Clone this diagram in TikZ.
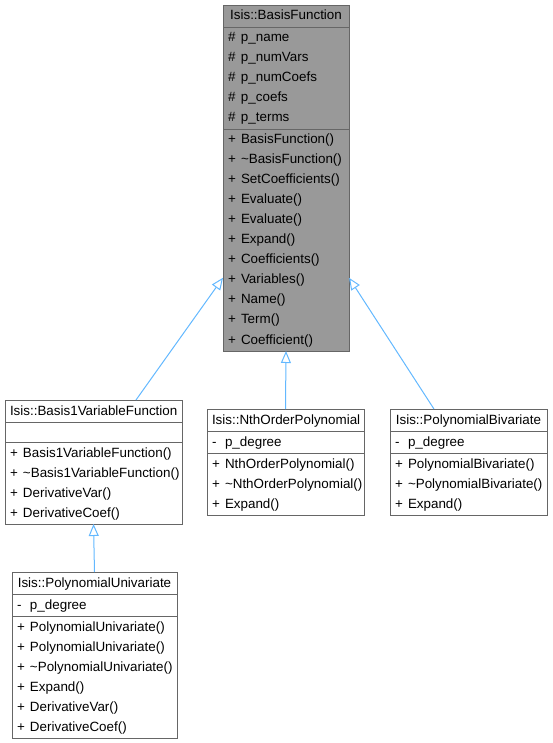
\documentclass[tikz,border=0pt]{standalone}
\usepackage{fontspec}
\setmainfont{Liberation Sans}
\usepackage{tikz}
\usetikzlibrary{arrows.meta,calc,positioning}
\definecolor{EdgeBlue}{RGB}{99,184,255}
\definecolor{BoxGrey}{RGB}{102,102,102}
\definecolor{BaseFill}{RGB}{153,153,153}
\newcommand{\umlrow}[2]{\makebox[13pt][l]{#1}#2\strut}

\begin{document}
\begin{tikzpicture}[x=1pt, y=-1pt,
    every node/.style={font=\fontsize{13.4}{20}\selectfont},
    ctitle/.style={draw=BoxGrey, fill=white, line width=0.8pt, inner xsep=5pt,
        inner ysep=1pt, outer sep=0pt, text width=#1, align=center},
    cpart/.style={draw=BoxGrey, fill=white, line width=0.8pt, inner xsep=5pt,
        inner ysep=1pt, outer sep=0pt, text width=#1, align=left},
    inherit/.style={draw=EdgeBlue, line width=1pt,
        -{Triangle[open, length=12pt, width=10pt]}}]
\useasboundingbox (0,0) rectangle (553,743);

% base class
\node[ctitle=116pt, fill=BaseFill, anchor=north west] (bftitle) at (223,5)
    {Isis::BasisFunction\strut};
\node[cpart=116pt, fill=BaseFill, below=0pt of bftitle] (bfattr)
    {\umlrow{\#}{p\_name}\\ \umlrow{\#}{p\_numVars}\\ \umlrow{\#}{p\_numCoefs}\\
     \umlrow{\#}{p\_coefs}\\ \umlrow{\#}{p\_terms}};
\node[cpart=116pt, fill=BaseFill, below=0pt of bfattr] (bfmeth)
    {\umlrow{+}{BasisFunction()}\\ \umlrow{+}{\textasciitilde BasisFunction()}\\
     \umlrow{+}{SetCoefficients()}\\ \umlrow{+}{Evaluate()}\\ \umlrow{+}{Evaluate()}\\
     \umlrow{+}{Expand()}\\ \umlrow{+}{Coefficients()}\\ \umlrow{+}{Variables()}\\
     \umlrow{+}{Name()}\\ \umlrow{+}{Term()}\\ \umlrow{+}{Coefficient()}};

% derived classes
\node[ctitle=167pt, anchor=north west] (bvtitle) at (5,400)
    {Isis::Basis1VariableFunction\strut};
\node[cpart=167pt, minimum height=20pt, below=0pt of bvtitle] (bvattr) {};
\node[cpart=167pt, below=0pt of bvattr] (bvmeth)
    {\umlrow{+}{Basis1VariableFunction()}\\ \umlrow{+}{\textasciitilde Basis1VariableFunction()}\\
     \umlrow{+}{DerivativeVar()}\\ \umlrow{+}{DerivativeCoef()}};

\node[ctitle=147pt, anchor=north west] (nptitle) at (207,409)
    {Isis::NthOrderPolynomial\strut};
\node[cpart=147pt, below=0pt of nptitle] (npattr) {\umlrow{-}{p\_degree}};
\node[cpart=147pt, below=0pt of npattr] (npmeth)
    {\umlrow{+}{NthOrderPolynomial()}\\ \umlrow{+}{\textasciitilde NthOrderPolynomial()}\\
     \umlrow{+}{Expand()}};

\node[ctitle=147pt, anchor=north west] (pbtitle) at (390,409)
    {Isis::PolynomialBivariate\strut};
\node[cpart=147pt, below=0pt of pbtitle] (pbattr) {\umlrow{-}{p\_degree}};
\node[cpart=147pt, below=0pt of pbattr] (pbmeth)
    {\umlrow{+}{PolynomialBivariate()}\\ \umlrow{+}{\textasciitilde PolynomialBivariate()}\\
     \umlrow{+}{Expand()}};

\node[ctitle=155pt, anchor=north west] (putitle) at (12,572)
    {Isis::PolynomialUnivariate\strut};
\node[cpart=155pt, below=0pt of putitle] (puattr) {\umlrow{-}{p\_degree}};
\node[cpart=155pt, below=0pt of puattr] (pumeth)
    {\umlrow{+}{PolynomialUnivariate()}\\ \umlrow{+}{PolynomialUnivariate()}\\
     \umlrow{+}{\textasciitilde PolynomialUnivariate()}\\ \umlrow{+}{Expand()}\\
     \umlrow{+}{DerivativeVar()}\\ \umlrow{+}{DerivativeCoef()}};

\draw[inherit] ($(bvtitle.north west)!0.74!(bvtitle.north east)$)
    -- ($(bfmeth.north west)!0.67!(bfmeth.south west)$);
\draw[inherit] (nptitle.north) -- (bfmeth.south);
\draw[inherit] ($(pbtitle.north west)!0.28!(pbtitle.north east)$)
    -- ($(bfmeth.north east)!0.67!(bfmeth.south east)$);
\draw[inherit] (putitle.north) -- (bvmeth.south);
\end{tikzpicture}
\end{document}
